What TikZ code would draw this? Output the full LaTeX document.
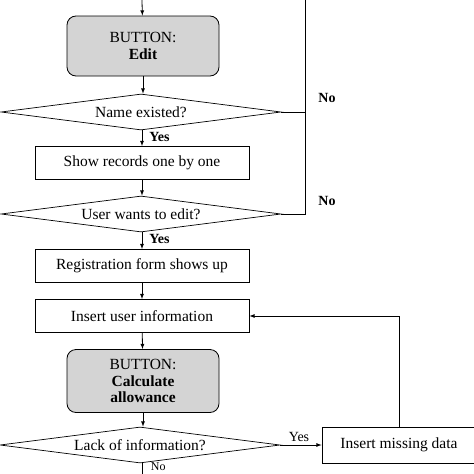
\documentclass[tikz,border=0pt]{standalone}
\usepackage{fontspec}
\setmainfont{Liberation Serif}
\usetikzlibrary{arrows,shapes.geometric}
\tikzset{
btn/.style={draw, rounded corners=9pt, fill=black!17, minimum width=152pt, align=center, line width=0.8pt, font=\fontsize{15.5}{16.5}\selectfont},
box/.style={draw, minimum width=214pt, minimum height=33pt, line width=0.8pt, font=\fontsize{15.5}{16.5}\selectfont},
ask/.style={draw, diamond, aspect=8, minimum width=280pt, minimum height=36pt, inner sep=0pt, line width=0.7pt, font=\fontsize{15.5}{16.5}\selectfont},
flow/.style={-latex, line width=0.8pt},
lbl/.style={font=\fontsize{14}{15}\selectfont\bfseries, inner sep=1pt},
lblr/.style={font=\fontsize{14}{15}\selectfont, inner sep=1pt}
}
\begin{document}
\begin{tikzpicture}[x=1pt,y=1pt,yscale=-1,xscale=1]
\useasboundingbox (0,0) rectangle (474,474);

%Shape: Buttons and steps
\node[btn, minimum height=60pt] (edit) at (143,46) {BUTTON:\\\textbf{Edit}};
\node[ask] (name) at (141,112) {Name existed?};
\node[box] (show) at (142,163) {Show records one by one};
\node[ask] (wants) at (141,214) {User wants to edit?};
\node[box] (regform) at (142,266) {Registration form shows up};
\node[box] (insert) at (142,316) {Insert user information};
\node[btn, minimum height=63pt] (calc) at (143,381) {BUTTON:\\\textbf{Calculate}\\\textbf{allowance}};
\node[ask] (lack) at (140,445) {Lack of information?};
\node[box, minimum width=154pt, minimum height=36pt] (missing) at (399,445) {Insert missing data};

%Shape: Loose ends
\coordinate (start) at (142,0);
\coordinate (back) at (305,0);
\coordinate (finish) at (142,490);

%Arrows down the middle
\draw[flow] (start) -- (edit);
\draw[flow] (edit) -- (name.north -| edit);
\draw[flow] (name.south -| show) -- node[lbl, right, pos=0.4, xshift=6pt] {Yes} (show);
\draw[flow] (show) -- (wants.north -| show);
\draw[flow] (wants.south -| show) -- node[lbl, right, pos=0.4, xshift=6pt] {Yes} (regform);
\draw[flow] (regform) -- (insert);
\draw[flow] (insert) -- (calc);
\draw[flow] (calc) -- (lack.north -| calc);
\draw[flow] (lack.south -| insert) -- node[lblr, font=\fontsize{12}{13}\selectfont, inner sep=0.5pt, anchor=north west, pos=0, xshift=8pt, yshift=2pt] {No} (finish);

%Loop back for missing data
\draw[flow] (lack) -- node[lblr, above, xshift=-2pt, yshift=2pt] {Yes} (missing);
\draw[flow] (missing) |- (insert);

%Loop back to the top
\draw[line width=0.8pt] (name) -| node[lbl, anchor=south west, xshift=12pt, yshift=8pt] {No} (back);
\draw[line width=0.8pt] (wants) -| node[lbl, anchor=south west, xshift=12pt, yshift=7pt] {No} (back);

\end{tikzpicture}
\end{document}
